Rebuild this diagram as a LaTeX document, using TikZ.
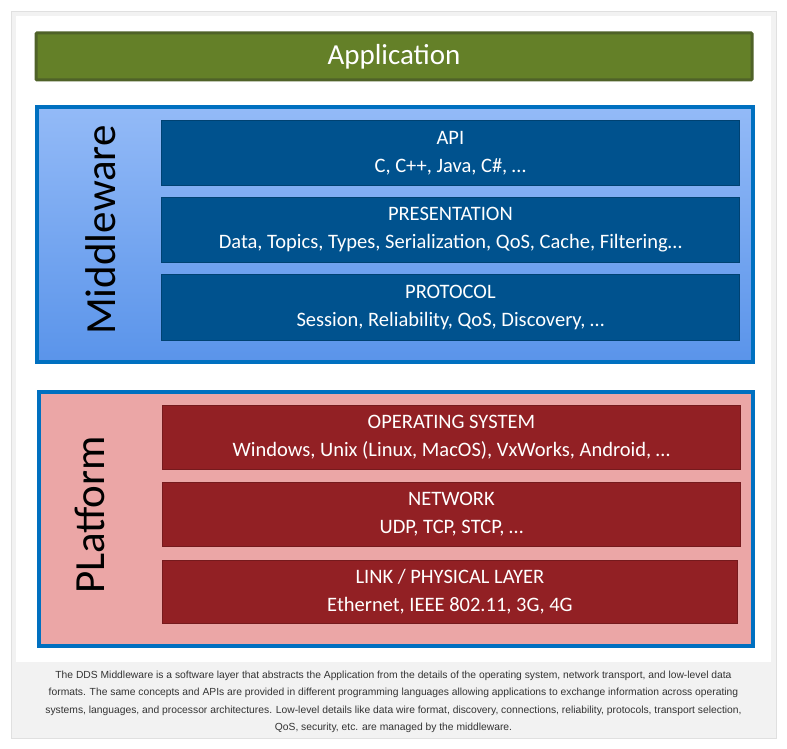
\documentclass[tikz,border=0pt]{standalone}
\usepackage{fontspec}
\setmainfont{Carlito}
\newfontfamily\capfont{Liberation Sans}
\definecolor{appg}{HTML}{648028}
\definecolor{appb}{HTML}{4F6228}
\definecolor{mwb}{HTML}{0070C0}
\definecolor{mwt}{HTML}{93BAF7}
\definecolor{mwbot}{HTML}{5A94EA}
\definecolor{inb}{HTML}{00528E}
\definecolor{plf}{HTML}{EBA6A6}
\definecolor{red}{HTML}{922024}
\definecolor{capc}{HTML}{333333}
\begin{document}
\begin{tikzpicture}[x=1pt,y=-1pt,
 layer/.style={draw=#1!80!black,line width=0.8pt,text=white,align=center,font=\fontsize{20.5}{28}\selectfont},
 blue/.style={layer=inb,fill=inb},
 redb/.style={layer=red,fill=red},
 big/.style={font=\fontsize{43}{43}\selectfont,rotate=90}]
\useasboundingbox (0,0) rectangle (787,749);
\fill[white] (0,0) rectangle (787,749);
\draw[fill=black!5,draw=black!12] (11,11) rectangle (776,738);
\fill[white] (16,16) rectangle (771,662);
\node[draw=appb,line width=3pt,fill=appg,text=white,minimum width=716,minimum height=47,anchor=north west,font=\fontsize{29}{32}\selectfont,rounded corners=1pt] (app) at (34.5,31.5) {Application};
\node[draw=mwb,line width=4pt,top color=mwt,bottom color=mwbot,minimum width=716,minimum height=255,anchor=north west] (mw) at (35,105) {};
\node[big] (mwl) at (101,230) {Middleware};
\node[blue,minimum width=578,minimum height=65,anchor=north west] (api) at (161,120) {API\\C, C++, Java, C\#, …};
\node[blue,minimum width=578,minimum height=65,anchor=north west] (pres) at (161,197) {PRESENTATION\\Data, Topics, Types, Serialization, QoS, Cache, Filtering…};
\node[blue,minimum width=578,minimum height=66,anchor=north west] (prot) at (161,274) {PROTOCOL\\Session, Reliability, QoS, Discovery, …};
\node[draw=mwb,line width=4pt,fill=plf,minimum width=714,minimum height=254,anchor=north west] (pf) at (37,390) {};
\node[big] (pfl) at (90,515) {PLatform};
\node[redb,minimum width=578,minimum height=64,anchor=north west] (os) at (162,405) {OPERATING SYSTEM\\Windows, Unix (Linux, MacOS), VxWorks, Android, …};
\node[redb,minimum width=578,minimum height=64,anchor=north west] (net) at (162,482) {NETWORK\\UDP, TCP, STCP, …};
\node[redb,minimum width=575,minimum height=63,anchor=north west] (link) at (162,560) {LINK / PHYSICAL LAYER\\Ethernet, IEEE 802.11, 3G, 4G};
\node[text=capc,align=center,font=\capfont\fontsize{10.3}{17.5}\selectfont] (cap) at (393.5,702) {The DDS Middleware is a software layer that abstracts the Application from the details of the operating system, network transport, and low-level data\\formats. The same concepts and APIs are provided in different programming languages allowing applications to exchange information across operating\\systems, languages, and processor architectures. Low-level details like data wire format, discovery, connections, reliability, protocols, transport selection,\\QoS, security, etc. are managed by the middleware.};
\end{tikzpicture}
\end{document}
